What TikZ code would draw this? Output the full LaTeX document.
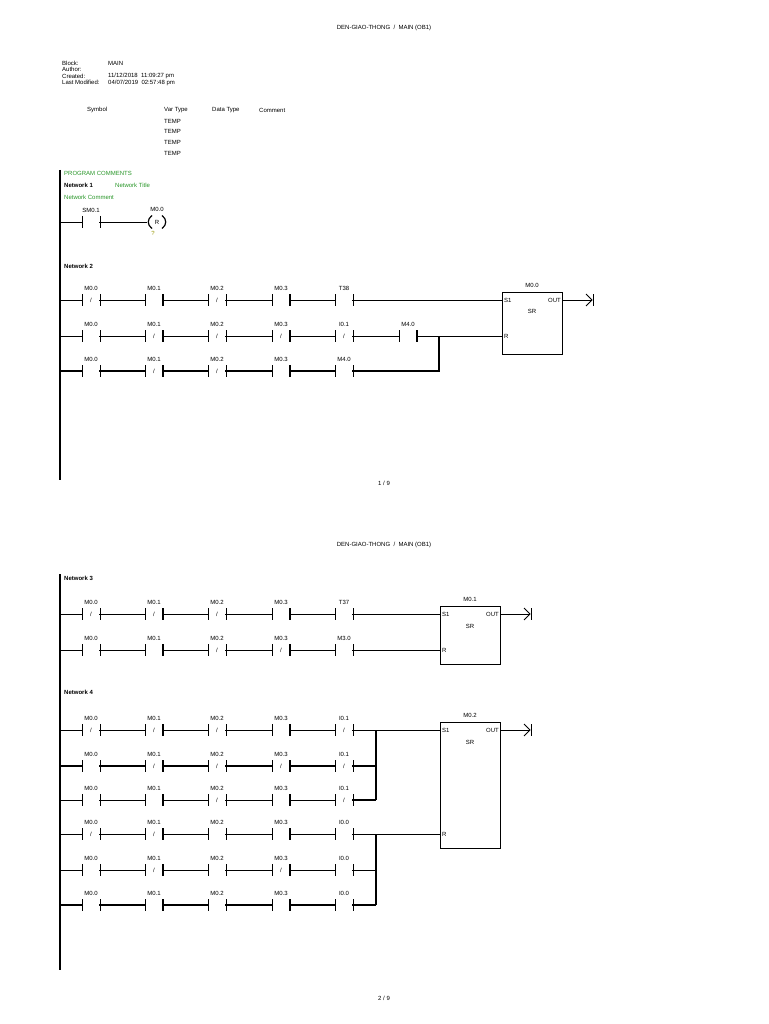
\documentclass[tikz,border=0pt]{standalone}
\usepackage{fontspec}
\setmainfont{Liberation Sans}
\definecolor{gtext}{RGB}{40,150,40}
\definecolor{qmark}{RGB}{150,150,0}
\newcommand\lfont{\fontsize{6}{7}\selectfont}
\newcommand\ctc[5]{%
  \fill[white] (#1-8,#2-7) rectangle (#1+8,#2+7);
  \draw[line width=0.8pt] (#1-9,#2-6) -- (#1-9,#2+6);
  \ifnum#5=1 \draw[line width=1.8pt] (#1+9,#2-6) -- (#1+9,#2+6);
  \else \draw[line width=0.8pt] (#1+9,#2-6) -- (#1+9,#2+6);\fi
  \node[font=\lfont] at (#1,#2-12) {#3};
  \ifnum#4=1 \node[font=\lfont] at (#1,#2) {/};\fi
}
\newcommand\outarrow[2]{%
  \draw[line width=0.8pt] (#1-6,#2-6) -- (#1,#2) -- (#1-6,#2+6);
  \draw[line width=0.8pt] (#1+1,#2-6) -- (#1+1,#2+6);
}
\begin{document}
\begin{tikzpicture}[x=1pt,y=-1pt,
  txt/.style={font=\lfont,anchor=west,inner sep=0pt},
  gtx/.style={txt,text=gtext},
  thin/.style={line width=0.8pt},
  thk/.style={line width=1.6pt}]
\useasboundingbox (0,0) rectangle (768,1024);
\fill[white] (0,0) rectangle (768,1024);
% headers
\node[font=\lfont] at (384,28) {DEN-GIAO-THONG\ \ /\ \ MAIN (OB1)};
\node[font=\lfont] at (384,545) {DEN-GIAO-THONG\ \ /\ \ MAIN (OB1)};
\node[font=\lfont] at (384,483) {1 / 9};
\node[font=\lfont] at (384,998) {2 / 9};
% info
\node[txt] at (62,63) {Block:};
\node[txt] at (108,63) {MAIN};
\node[txt] at (62,69.5) {Author:};
\node[txt] at (62,76) {Created:};
\node[txt] at (108,76) {11/12/2018\ \ 11:09:27 pm};
\node[txt] at (62,82.5) {Last Modified:};
\node[txt] at (108,82.5) {04/07/2019\ \ 02:57:48 pm};
\node[txt] at (87,110) {Symbol};
\node[txt] at (164,110) {Var Type};
\node[txt] at (212,110) {Data Type};
\node[txt] at (259,110) {Comment};
\foreach \yy in {121,131.5,142,153}{\node[txt] at (164,\yy) {TEMP};}
% rails
\draw[line width=1.5pt] (60,170) -- (60,480);
\draw[line width=1.5pt] (60,574) -- (60,970);
% Network 1
\node[gtx] at (64,173) {PROGRAM COMMENTS};
\node[txt,font=\lfont\bfseries] at (64,185) {Network 1};
\node[gtx] at (115,185) {Network Title};
\node[gtx] at (64,197) {Network Comment};
\draw[thin] (60,222) -- (147,222);
\ctc{91}{222}{SM0.1}{0}{0}
\draw[line width=1.2pt] (152,215.5) .. controls (147,219) and (147,225) .. (152,228.5);
\draw[line width=1.2pt] (162,215.5) .. controls (167,219) and (167,225) .. (162,228.5);
\node[font=\lfont] at (157,209) {M0.0};
\node[font=\lfont] at (157,222) {R};
\node[font=\lfont,text=qmark] at (153,233) {?};
% Network 2
\node[txt,font=\lfont\bfseries] at (64,266) {Network 2};
\draw[thin] (60,300) -- (502,300);
\ctc{91}{300}{M0.0}{1}{0}\ctc{154}{300}{M0.1}{0}{1}\ctc{217}{300}{M0.2}{1}{0}\ctc{281}{300}{M0.3}{0}{1}\ctc{344}{300}{T38}{0}{0}
\draw[thin] (60,336) -- (502,336);
\ctc{91}{336}{M0.0}{0}{0}\ctc{154}{336}{M0.1}{1}{1}\ctc{217}{336}{M0.2}{1}{0}\ctc{281}{336}{M0.3}{1}{1}\ctc{344}{336}{I0.1}{1}{0}\ctc{408}{336}{M4.0}{0}{1}
\draw[thk] (60,371) -- (439,371) -- (439,336);
\ctc{91}{371}{M0.0}{0}{0}\ctc{154}{371}{M0.1}{1}{1}\ctc{217}{371}{M0.2}{1}{0}\ctc{281}{371}{M0.3}{0}{1}\ctc{344}{371}{M4.0}{0}{0}
\draw[thin] (502,292) rectangle (562,354);
\node[font=\lfont] at (532,285) {M0.0};
\node[txt] at (504,300) {S1};
\node[txt,anchor=east] at (561,300) {OUT};
\node[font=\lfont] at (532,311) {SR};
\node[txt] at (504,336) {R};
\draw[thin] (562,300) -- (592,300);
\outarrow{592}{300}
% Network 3
\node[txt,font=\lfont\bfseries] at (64,578) {Network 3};
\draw[thin] (60,614) -- (440,614);
\ctc{91}{614}{M0.0}{1}{0}\ctc{154}{614}{M0.1}{1}{1}\ctc{217}{614}{M0.2}{1}{0}\ctc{281}{614}{M0.3}{0}{1}\ctc{344}{614}{T37}{0}{0}
\draw[thin] (60,650) -- (440,650);
\ctc{91}{650}{M0.0}{0}{0}\ctc{154}{650}{M0.1}{0}{1}\ctc{217}{650}{M0.2}{1}{0}\ctc{281}{650}{M0.3}{1}{1}\ctc{344}{650}{M3.0}{0}{0}
\draw[thin] (440,606) rectangle (500,664);
\node[font=\lfont] at (470,599) {M0.1};
\node[txt] at (442,614) {S1};
\node[txt,anchor=east] at (499,614) {OUT};
\node[font=\lfont] at (470,626) {SR};
\node[txt] at (442,650) {R};
\draw[thin] (500,614) -- (530,614);
\outarrow{530}{614}
% Network 4
\node[txt,font=\lfont\bfseries] at (64,692) {Network 4};
\draw[thin] (60,730) -- (440,730);
\draw[thk] (376,730) -- (376,800);
\ctc{91}{730}{M0.0}{1}{0}\ctc{154}{730}{M0.1}{1}{1}\ctc{217}{730}{M0.2}{1}{0}\ctc{281}{730}{M0.3}{0}{1}\ctc{344}{730}{I0.1}{1}{0}
\draw[thk] (60,766) -- (376,766);
\ctc{91}{766}{M0.0}{0}{0}\ctc{154}{766}{M0.1}{1}{1}\ctc{217}{766}{M0.2}{1}{0}\ctc{281}{766}{M0.3}{1}{1}\ctc{344}{766}{I0.1}{1}{0}
\draw[thin] (60,800) -- (352,800);
\draw[thk] (352,800) -- (376,800);
\ctc{91}{800}{M0.0}{0}{0}\ctc{154}{800}{M0.1}{0}{1}\ctc{217}{800}{M0.2}{1}{0}\ctc{281}{800}{M0.3}{0}{1}\ctc{344}{800}{I0.1}{1}{0}
\draw[thin] (60,834) -- (440,834);
\draw[thk] (376,834) -- (376,905);
\ctc{91}{834}{M0.0}{1}{0}\ctc{154}{834}{M0.1}{1}{1}\ctc{217}{834}{M0.2}{0}{0}\ctc{281}{834}{M0.3}{0}{1}\ctc{344}{834}{I0.0}{0}{0}
\draw[thin] (60,870) -- (376,870);
\ctc{91}{870}{M0.0}{0}{0}\ctc{154}{870}{M0.1}{1}{1}\ctc{217}{870}{M0.2}{0}{0}\ctc{281}{870}{M0.3}{1}{1}\ctc{344}{870}{I0.0}{0}{0}
\draw[thk] (60,905) -- (376,905);
\ctc{91}{905}{M0.0}{0}{0}\ctc{154}{905}{M0.1}{0}{1}\ctc{217}{905}{M0.2}{0}{0}\ctc{281}{905}{M0.3}{0}{1}\ctc{344}{905}{I0.0}{0}{0}
\draw[thin] (440,722) rectangle (500,848);
\node[font=\lfont] at (470,715) {M0.2};
\node[txt] at (442,730) {S1};
\node[txt,anchor=east] at (499,730) {OUT};
\node[font=\lfont] at (470,742) {SR};
\node[txt] at (442,834) {R};
\draw[thin] (500,730) -- (530,730);
\outarrow{530}{730}
\end{tikzpicture}
\end{document}
